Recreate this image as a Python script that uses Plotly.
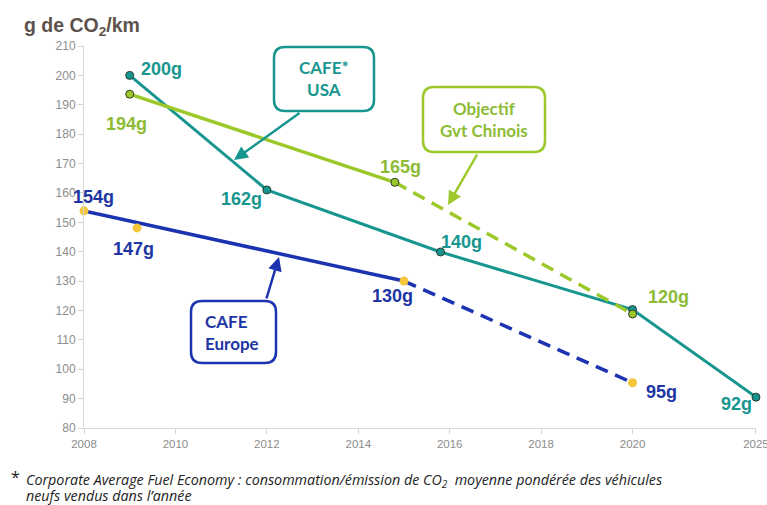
import plotly.graph_objects as go

# ---------------- data ----------------
usa_years = [2009, 2012, 2015.8, 2020, 2025]
usa_vals = [200, 161, 139.9, 120.3, 90.5]
usa_labels = ["200g", "162g", "140g", "", "92g"]

china_years = [2009, 2014.8, 2020]
china_vals = [193.6, 163.6, 118.8]
china_labels = ["194g", "165g", "120g"]

eu_years = [2008, 2015, 2020]
eu_vals = [153.9, 130, 95.4]
eu_labels = ["154g", "130g", "95g"]

eu_extra_year = [2009.16]
eu_extra_val = [148.1]
eu_extra_label = ["147g"]

tick_years = [2008, 2010, 2012, 2014, 2016, 2018, 2020, 2025]
y_ticks = list(range(80, 211, 10))

# ---------------- style ----------------
TEAL = "#17968f"
GREEN = "#9cc82a"
GREEN_TXT = "#8dbb35"
BLUE = "#1b33b0"
BLUE_TXT = "#1d35a3"
YELLOW = "#f5c53a"
OUT = "#2b3b30"


def xpos(year):
    # the original axis squeezes the 2020-2025 interval
    return year if year <= 2020 else 2020 + (year - 2020) * 0.54


# plot area in pixels
L, R, T, B = 84, 756, 46, 428
W, H = R - L, B - T


def px(x):
    return (x - L) / W


def py(y):
    return (B - y) / H


fig = go.Figure()

# USA
fig.add_trace(go.Scatter(
    x=[xpos(v) for v in usa_years], y=usa_vals, mode="lines+markers",
    line=dict(color=TEAL, width=3),
    marker=dict(size=8, color=TEAL, line=dict(color=OUT, width=1)),
    cliponaxis=False, showlegend=False))

# China solid + dashed
fig.add_trace(go.Scatter(
    x=[xpos(v) for v in china_years[:2]], y=china_vals[:2], mode="lines",
    line=dict(color=GREEN, width=3.5), cliponaxis=False, showlegend=False))
fig.add_trace(go.Scatter(
    x=[xpos(v) for v in china_years[1:]], y=china_vals[1:], mode="lines",
    line=dict(color=GREEN, width=3.5, dash="13px,8px"), cliponaxis=False, showlegend=False))
fig.add_trace(go.Scatter(
    x=[xpos(v) for v in china_years], y=china_vals, mode="markers",
    marker=dict(size=8, color=GREEN, line=dict(color=OUT, width=1)),
    cliponaxis=False, showlegend=False))

# Europe solid + dashed
fig.add_trace(go.Scatter(
    x=[xpos(v) for v in eu_years[:2]], y=eu_vals[:2], mode="lines",
    line=dict(color=BLUE, width=3.5), cliponaxis=False, showlegend=False))
fig.add_trace(go.Scatter(
    x=[xpos(v) for v in eu_years[1:]], y=eu_vals[1:], mode="lines",
    line=dict(color=BLUE, width=3.5, dash="13px,8px"), cliponaxis=False, showlegend=False))
fig.add_trace(go.Scatter(
    x=[xpos(v) for v in eu_years + eu_extra_year], y=eu_vals + eu_extra_val, mode="markers",
    marker=dict(size=9, color=YELLOW), cliponaxis=False, showlegend=False))

LBL_FONT = "Liberation Sans, Arial, sans-serif"


def add_labels(years, vals, labels, shifts, color):
    for yr, v, t, (dx, dy) in zip(years, vals, labels, shifts):
        if not t:
            continue
        fig.add_annotation(x=xpos(yr), y=v, text="<b>%s</b>" % t, showarrow=False,
                           xshift=dx, yshift=dy,
                           font=dict(family=LBL_FONT, size=18, color=color))


add_labels(usa_years, usa_vals, usa_labels, [(32, 6), (-25, -9), (21, 10), (0, 0), (-19, -7)], TEAL)
add_labels(china_years, china_vals, china_labels, [(-3, -30), (6, 15), (36, 17)], GREEN_TXT)
add_labels(eu_years, eu_vals, eu_labels, [(9, 14), (-11, -15), (29, -9)], BLUE_TXT)
add_labels(eu_extra_year, eu_extra_val, eu_extra_label, [(-4, -21)], BLUE_TXT)


# callout boxes
def rrect(x0, y0, x1, y1, r):
    pts = [("M", x0 + r, y0), ("L", x1 - r, y0), ("Q", x1, y0, x1, y0 + r),
           ("L", x1, y1 - r), ("Q", x1, y1, x1 - r, y1), ("L", x0 + r, y1),
           ("Q", x0, y1, x0, y1 - r), ("L", x0, y0 + r), ("Q", x0, y0, x0 + r, y0)]
    s = ""
    for p in pts:
        cmd = p[0]
        coords = p[1:]
        parts = []
        for i in range(0, len(coords), 2):
            parts.append("%.5f,%.5f" % (px(coords[i]), py(coords[i + 1])))
        s += cmd + " " + " ".join(parts) + " "
    return s + "Z"


BOX_FONT = "Lato, Open Sans, sans-serif"
boxes = [
    (274, 47, 374, 111, TEAL, "CAFE*<br>USA", "center", 324),
    (423, 87, 545, 152, GREEN, "Objectif<br>Gvt Chinois", "center", 484),
    (191, 301, 276, 363, BLUE, "CAFE<br>Europe", "left", 203),
]
box_txt_col = [TEAL, GREEN_TXT, BLUE_TXT]
for (x0, y0, x1, y1, col, txt, al, tx), tc in zip(boxes, box_txt_col):
    fig.add_shape(type="path", path=rrect(x0, y0, x1, y1, 11), xref="paper", yref="paper",
                  line=dict(color=col, width=2.5), fillcolor="white", layer="above")
    fig.add_annotation(x=px(tx), y=py((y0 + y1) / 2), xref="paper", yref="paper",
                       text="<b>%s</b>" % txt, showarrow=False, align=al,
                       xanchor="center" if al == "center" else "left", yanchor="middle",
                       font=dict(family=BOX_FONT, size=17, color=tc))

arrows = [
    ((301, 112), (234, 160), TEAL),
    ((478, 153), (448, 205), GREEN),
    ((266, 300), (279, 257), BLUE),
]
for (tx, ty), (hx, hy), col in arrows:
    fig.add_annotation(x=px(hx), y=py(hy), xref="paper", yref="paper", text="",
                       showarrow=True, ax=tx - hx, ay=ty - hy, axref="pixel", ayref="pixel",
                       arrowhead=2, arrowsize=1.1, arrowwidth=2.5, arrowcolor=col, standoff=0)

# title
fig.add_annotation(x=px(22), y=py(26), xref="paper", yref="paper", xanchor="left", yanchor="middle",
                   text="<b>g de CO<sub>2</sub>/km</b>", showarrow=False,
                   font=dict(family=LBL_FONT, size=19.5, color="#5e524c"))

# footnote
FOOT_FONT = "Open Sans, Lato, sans-serif"
fig.add_annotation(x=px(9), y=py(477), xref="paper", yref="paper", xanchor="left", yanchor="middle",
                   text="*", showarrow=False, font=dict(family=FOOT_FONT, size=16, color="#222222"))
fig.add_annotation(x=px(24), y=py(480), xref="paper", yref="paper", xanchor="left", yanchor="middle",
                   text="<i>Corporate Average Fuel Economy : consommation/émission de CO<sub>2</sub>  moyenne pondérée des véhicules</i>",
                   showarrow=False, align="left",
                   font=dict(family=FOOT_FONT, size=14.3, color="#222222"))
fig.add_annotation(x=px(24), y=py(495.5), xref="paper", yref="paper", xanchor="left", yanchor="middle",
                   text="<i>neufs vendus dans l’année</i>",
                   showarrow=False, align="left",
                   font=dict(family=FOOT_FONT, size=14.3, color="#222222"))

AX_GREY = "#d6d6d6"
fig.update_layout(
    width=767, height=505,
    margin=dict(l=L, r=767 - R, t=T, b=505 - B, autoexpand=False),
    paper_bgcolor="white", plot_bgcolor="white",
    xaxis=dict(range=[2008, xpos(2025) + 0.0005], tickvals=[xpos(v) for v in tick_years],
               ticktext=[str(v) for v in tick_years], showgrid=False, zeroline=False,
               ticklabeloverflow="allow", automargin=False,
               showline=True, linecolor=AX_GREY, linewidth=1, ticks="outside", ticklen=5,
               tickcolor=AX_GREY, tickfont=dict(family=LBL_FONT, size=11.5, color="#8c8c8c")),
    yaxis=dict(range=[80, 210], tickvals=y_ticks, showgrid=False, zeroline=False,
               automargin=False,
               showline=True, linecolor=AX_GREY, linewidth=1, ticks="outside", ticklen=5,
               tickcolor=AX_GREY, tickfont=dict(family=LBL_FONT, size=12, color="#8c8c8c")),
)

fig.write_html("out.html")
